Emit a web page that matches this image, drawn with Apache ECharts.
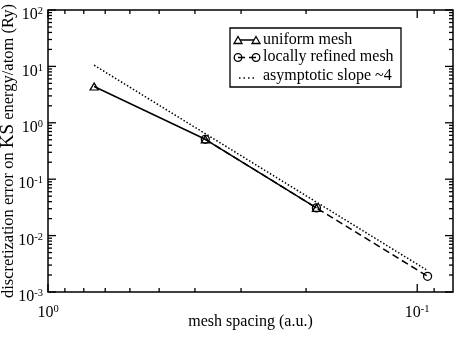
<!DOCTYPE html>
<html>
<head>
<meta charset="utf-8">
<script src="https://cdn.jsdelivr.net/npm/echarts@6/dist/echarts.min.js"></script>
<style>
  html, body { margin: 0; padding: 0; background: #fff; }
  #chart { width: 474px; height: 348px; }
</style>
</head>
<body>
<div id="chart"></div>
<script>
// Mesh spacing (a.u.) and discretization error on the KS energy per atom (Ry)
const uniformSpacing = [0.75, 0.375, 0.1875];
const uniformError   = [4.4, 0.51, 0.031];
const refinedSpacing = [0.375, 0.1875, 0.09375];
const refinedError   = [0.51, 0.031, 0.0019];
// Reference line with slope ~4
const slopeSpacing = [0.75, 0.09375];
const slopeError   = [10.5, 0.0024];

// Tick positions
const xMajorTicks = [1, 0.1];
const xMinorTicks = [0.9, 0.8, 0.7, 0.6, 0.5, 0.4, 0.3, 0.2, 0.09];
const yDecades = [0.001, 0.01, 0.1, 1, 10, 100];
const yMinorSteps = [2, 3, 4, 5, 6, 7, 8, 9];
const yMinorTicks = [];
yDecades.slice(0, -1).forEach(d => yMinorSteps.forEach(m => yMinorTicks.push(d * m)));

const FONT = 'Liberation Serif';

function pairs(xs, ys) { return xs.map((x, i) => [x, ys[i]]); }

function powerLabel(v) {
  const e = Math.log10(v);
  const r = Math.round(e);
  if (Math.abs(e - r) > 1e-6) return '';
  return '{b|10}{s|' + r + '}';
}

const labelRich = {
  b: { fontFamily: FONT, fontSize: 16, color: '#000', lineHeight: 17, verticalAlign: 'bottom' },
  s: { fontFamily: FONT, fontSize: 10.5, color: '#000', lineHeight: 10, verticalAlign: 'top' }
};

// Inward ticks drawn on both opposite edges of the plot frame
function tickSeries(values, dir, len) {
  return {
    type: 'custom',
    silent: true,
    clip: false,
    z: 5,
    data: values.map(v => dir === 'x' ? [v, 1] : [0.5, v]),
    renderItem(params, api) {
      const cs = params.coordSys;
      const p = api.coord([api.value(0), api.value(1)]);
      const style = { stroke: '#000', lineWidth: 1.3 };
      if (dir === 'x') {
        const b = cs.y + cs.height, t = cs.y;
        return { type: 'group', children: [
          { type: 'line', shape: { x1: p[0], y1: b, x2: p[0], y2: b - len }, style },
          { type: 'line', shape: { x1: p[0], y1: t, x2: p[0], y2: t + len }, style }
        ]};
      }
      const l = cs.x, r = cs.x + cs.width;
      return { type: 'group', children: [
        { type: 'line', shape: { x1: l, y1: p[1], x2: l + len, y2: p[1] }, style },
        { type: 'line', shape: { x1: r, y1: p[1], x2: r - len, y2: p[1] }, style }
      ]};
    }
  };
}

const chart = echarts.init(document.getElementById('chart'), null, { renderer: 'canvas' });

// Legend box
const legendX = 230, legendY = 28;
const textX = 263;
const lineStroke = { stroke: '#000', lineWidth: 1.5, fill: null };
function tri(cx, cy) {
  return { type: 'polygon', shape: { points: [[cx, cy - 3.5], [cx + 4, cy + 3.5], [cx - 4, cy + 3.5]] },
           style: { stroke: '#000', lineWidth: 1.3, fill: '#fff' }, z: 12 };
}
function circ(cx, cy) {
  return { type: 'circle', shape: { cx, cy, r: 3.8 },
           style: { stroke: '#000', lineWidth: 1.3, fill: 'transparent' }, z: 12 };
}
function legendText(text, y) {
  return { type: 'text', x: textX, y, z: 12,
           style: { text, font: '16px "' + FONT + '"', fill: '#000', verticalAlign: 'middle', align: 'left' } };
}

chart.setOption({
  animation: false,
  backgroundColor: '#fff',
  grid: {
    left: 48, top: 10, right: 21, bottom: 56,
    containLabel: false, outerBoundsMode: 'none',
    show: true, borderColor: '#000', borderWidth: 1.5, backgroundColor: 'transparent'
  },
  xAxis: {
    type: 'log', logBase: 10, min: 0.08, max: 1, inverse: true,
    name: 'mesh spacing (a.u.)', nameLocation: 'middle', nameGap: 22, nameMoveOverlap: false,
    nameTextStyle: { fontFamily: FONT, fontSize: 16, color: '#000' },
    axisLine: { show: false }, axisTick: { show: false }, splitLine: { show: false },
    axisLabel: { formatter: powerLabel, rich: labelRich, margin: 12, hideOverlap: false }
  },
  yAxis: {
    type: 'log', logBase: 10, min: 0.001, max: 100,
    name: '{a|discretization error on }{k|KS}{a| energy/atom (Ry)}',
    nameLocation: 'middle', nameGap: 30, nameMoveOverlap: false,
    nameTextStyle: { rich: {
      a: { fontFamily: FONT, fontSize: 16.5, color: '#000' },
      k: { fontFamily: FONT, fontSize: 19, color: '#000' }
    }},
    axisLine: { show: false }, axisTick: { show: false }, splitLine: { show: false },
    axisLabel: { formatter: powerLabel, rich: labelRich, margin: 5, padding: [9, 0, 0, 0] }
  },
  series: [
    {
      name: 'asymptotic slope ~4', type: 'line', data: pairs(slopeSpacing, slopeError),
      showSymbol: false, symbol: 'none', z: 2,
      lineStyle: { color: '#000', width: 1.5, type: [1.5, 2] }
    },
    {
      name: 'locally refined mesh', type: 'line', data: pairs(refinedSpacing, refinedError),
      symbol: 'circle', symbolSize: 8, z: 3,
      itemStyle: { color: 'transparent', borderColor: '#000', borderWidth: 1.3 },
      lineStyle: { color: '#000', width: 1.5, type: [7, 4] }
    },
    {
      name: 'uniform mesh', type: 'line', data: pairs(uniformSpacing, uniformError),
      symbol: 'triangle', symbolSize: [8, 7], z: 4,
      itemStyle: { color: 'transparent', borderColor: '#000', borderWidth: 1.3 },
      lineStyle: { color: '#000', width: 1.5 }
    },
    tickSeries(xMajorTicks, 'x', 8),
    tickSeries(xMinorTicks, 'x', 4),
    tickSeries(yDecades, 'y', 8),
    tickSeries(yMinorTicks, 'y', 4)
  ],
  graphic: [
    { type: 'rect', shape: { x: legendX, y: legendY, width: 171, height: 59 },
      style: { stroke: '#000', lineWidth: 1.3, fill: '#fff' }, z: 10 },
    { type: 'line', shape: { x1: 238, y1: 40, x2: 256, y2: 40 }, style: lineStroke, z: 11 },
    tri(238, 40), tri(256, 40),
    { type: 'line', shape: { x1: 238, y1: 57.5, x2: 256, y2: 57.5 },
      style: { stroke: '#000', lineWidth: 1.5, lineDash: [7, 4] }, z: 11 },
    circ(238, 57.5), circ(256, 57.5),
    { type: 'line', shape: { x1: 239, y1: 78, x2: 256, y2: 78 },
      style: { stroke: '#000', lineWidth: 1.5, lineDash: [1.5, 3] }, z: 11 },
    legendText('uniform mesh', 40),
    legendText('locally refined mesh', 57),
    legendText('asymptotic slope ~4', 76)
  ]
});
</script>
</body>
</html>
